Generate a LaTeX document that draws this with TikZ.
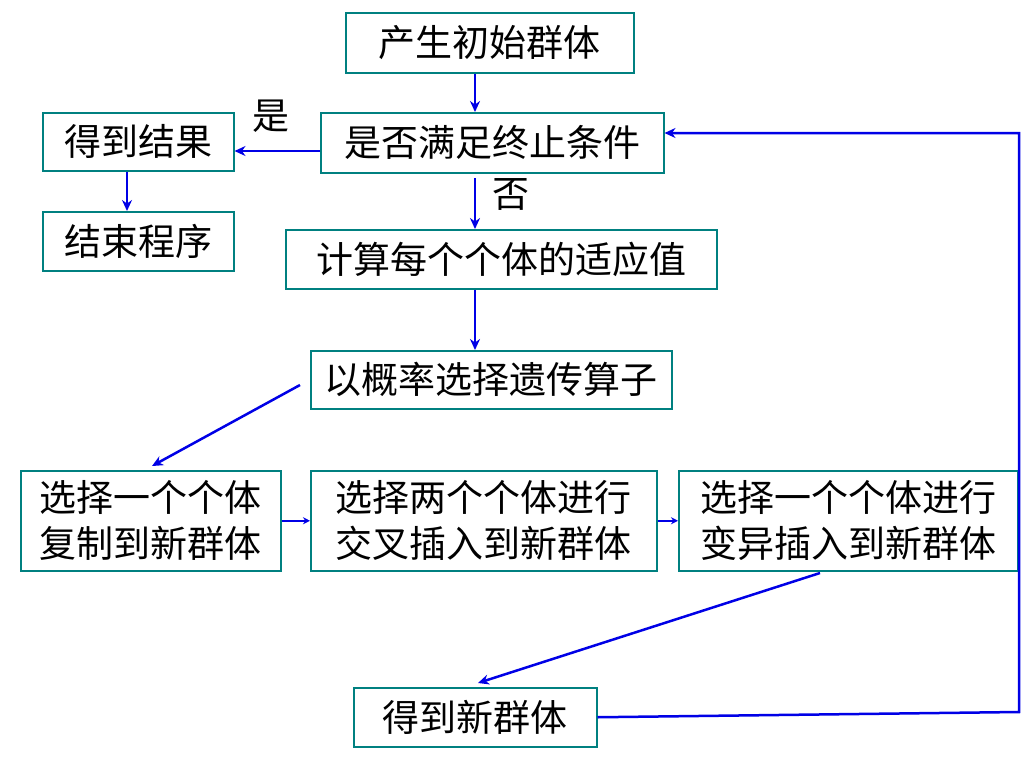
\documentclass[tikz,border=0pt]{standalone}
\usepackage{fontspec}
\setmainfont{Noto Sans CJK SC}
\usetikzlibrary{arrows.meta}
\definecolor{bx}{RGB}{0,128,128}
\definecolor{ar}{RGB}{0,0,230}
\begin{document}
\begin{tikzpicture}[x=1pt,y=-1pt,
 box/.style={draw=bx,line width=1.5pt,anchor=north west,inner sep=0pt,align=center,font=\fontsize{37}{46}\selectfont},
 arr/.style={draw=ar,line width=2.5pt,-{Stealth[length=11pt,width=10pt]}},
 lbl/.style={font=\fontsize{37}{40}\selectfont}]
\useasboundingbox (0,0) rectangle (1029,769);
\node[box,minimum width=288pt,minimum height=60pt] (n1) at (345,12) {产生初始群体};
\node[box,minimum width=343pt,minimum height=60pt] (n2) at (320,112) {是否满足终止条件};
\node[box,minimum width=191pt,minimum height=58pt] (n3) at (42,112) {得到结果};
\node[box,minimum width=191pt,minimum height=59pt] (n4) at (42,211) {结束程序};
\node[box,minimum width=431pt,minimum height=59pt] (n5) at (285,229) {计算每个个体的适应值};
\node[box,minimum width=361pt,minimum height=58pt] (n6) at (310,350) {以概率选择遗传算子};
\node[box,minimum width=260pt,minimum height=100pt] (n7) at (20,470) {选择一个个体\\复制到新群体};
\node[box,minimum width=346pt,minimum height=100pt] (n8) at (310,470) {选择两个个体进行\\交叉插入到新群体};
\node[box,minimum width=339pt,minimum height=100pt] (n9) at (678,470) {选择一个个体进行\\变异插入到新群体};
\node[box,minimum width=243pt,minimum height=59pt] (n10) at (353,687) {得到新群体};
\draw[arr] (n1.south -| 475,0) -- (n2.north -| 475,0);
\draw[arr] (n2.west |- 0,151) -- (n3.east |- 0,151);
\node[lbl] (yes) at (271,116) {是};
\draw[arr] (n3.south -| 127,0) -- (n4.north -| 127,0);
\draw[arr] (475,178) coordinate (c1) -- (n5.north -| 475,0);
\node[lbl] (no) at (511,194) {否};
\draw[arr] (n5.south -| 475,0) -- (n6.north -| 475,0);
\coordinate (c2) at (300,385);
\draw[arr] (c2) -- (152,466);
\draw[arr,-{Stealth[length=7pt,width=7pt]}] (n7.east) -- (n8.west);
\draw[arr,-{Stealth[length=7pt,width=7pt]}] (n8.east) -- (n9.west);
\coordinate (c3) at (820,573);
\draw[arr] (c3) -- (478,683);
\draw[arr] (n10.east) -- (1019,712) -- (1019,133) -- (n2.east |- 0,133);
\end{tikzpicture}
\end{document}
